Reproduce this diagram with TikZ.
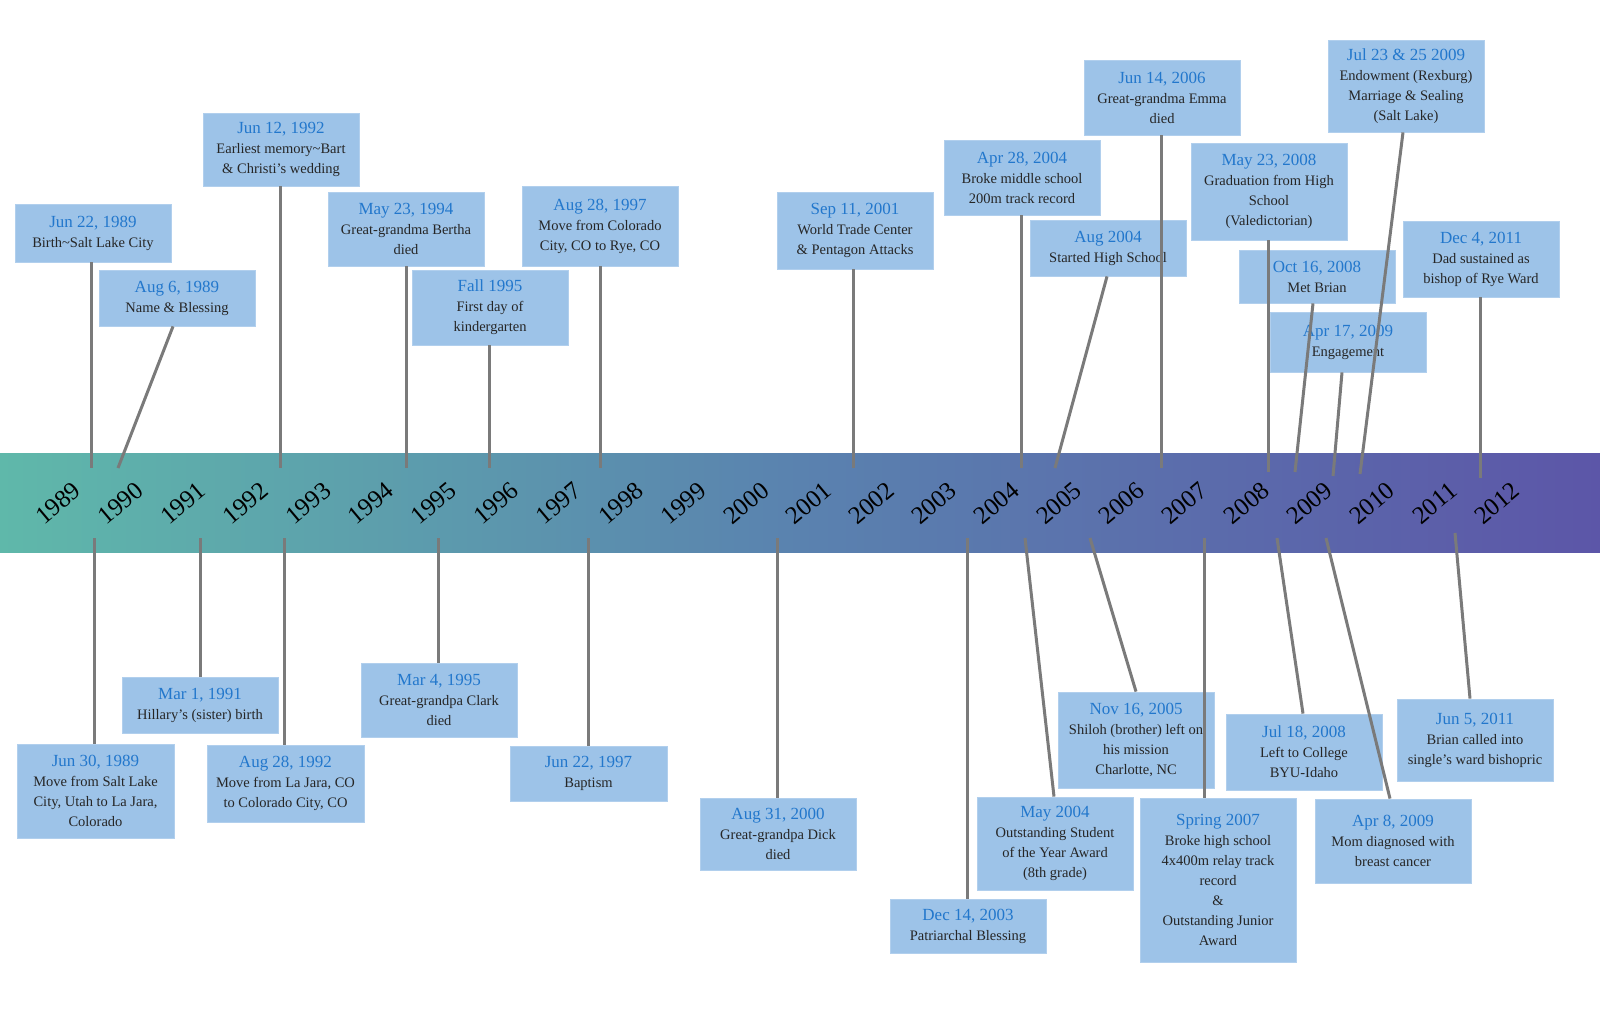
\documentclass[tikz,border=0pt]{standalone}
\usepackage{fontspec}
\setmainfont{Liberation Serif}
\usetikzlibrary{calc}
\definecolor{boxc}{HTML}{9DC3E8}
\definecolor{ttlc}{HTML}{2277CC}
\definecolor{linec}{HTML}{7A7A7A}
\tikzset{
 box/.style={fill=boxc,draw=boxc!80!white,line width=0.8pt,inner sep=0pt,align=center,font=\fontsize{14.5}{20}\selectfont,text=black!85},
 conn/.style={draw=linec,line width=3pt},
 yr/.style={rotate=40,font=\fontsize{25}{25}\selectfont}
}
\newcommand\ttl[1]{\textcolor{ttlc}{\fontsize{17}{20}\selectfont #1}}
\newcommand\evt[7]{\node[box,minimum width={#4-#2},minimum height={#5-#3}] (#1) at ({(#2+#4)/2},{(#3+#5)/2}) {\ttl{#6}\\#7};}
\begin{document}
\begin{tikzpicture}[x=1pt,y=-1pt]
\useasboundingbox (0,0) rectangle (1600,1035);
\fill[left color={rgb,255:red,95;green,184;blue,170},right color={rgb,255:red,92;green,86;blue,168},middle color={rgb,255:red,90;green,130;blue,175}] (0,453) rectangle (1600,552);
\foreach \yy [count=\i from 0] in {1989,...,2012}
  \node[yr] (y\yy) at ({58+62.57*\i},503) {\yy};
% top
\evt{b1}{15}{204}{171}{262}{Jun 22, 1989}{Birth\textasciitilde Salt Lake City}
\evt{b2}{99}{270}{255}{326}{Aug 6, 1989}{Name \& Blessing}
\evt{b3}{203}{113}{359}{186}{Jun 12, 1992}{Earliest memory\textasciitilde Bart\\\& Christi’s wedding}
\evt{b4}{328}{192}{484}{266}{May 23, 1994}{Great-grandma Bertha\\died}
\evt{b5}{412}{270}{568}{345}{Fall 1995}{First day of\\kindergarten}
\evt{b6}{522}{186}{678}{266}{Aug 28, 1997}{Move from Colorado\\City, CO to Rye, CO}
\evt{b7}{777}{192}{933}{269}{Sep 11, 2001}{World Trade Center\\\& Pentagon Attacks}
\evt{b8}{944}{140}{1100}{215}{Apr 28, 2004}{Broke middle school\\200m track record}
\evt{b9}{1084}{60}{1240}{135}{Jun 14, 2006}{Great-grandma Emma\\died}
\evt{b10}{1030}{220}{1186}{276}{Aug 2004}{Started High School}
\evt{b11}{1191}{143}{1347}{240}{May 23, 2008}{Graduation from High\\School\\(Valedictorian)}
\evt{b12}{1328}{40}{1484}{132}{Jul 23 \& 25 2009}{Endowment (Rexburg)\\Marriage \& Sealing\\(Salt Lake)}
\evt{b13}{1239}{250}{1395}{303}{Oct 16, 2008}{Met Brian}
\evt{b14}{1270}{312}{1426}{372}{Apr 17, 2009}{Engagement}
\evt{b15}{1403}{221}{1559}{297}{Dec 4, 2011}{Dad sustained as\\bishop of Rye Ward}
% bottom
\evt{c1}{17}{744}{174}{838}{Jun 30, 1989}{Move from Salt Lake\\City, Utah to La Jara,\\Colorado}
\evt{c2}{122}{677}{278}{733}{Mar 1, 1991}{Hillary’s (sister) birth}
\evt{c3}{207}{745}{364}{822}{Aug 28, 1992}{Move from La Jara, CO\\to Colorado City, CO}
\evt{c4}{361}{663}{517}{737}{Mar 4, 1995}{Great-grandpa Clark\\died}
\evt{c5}{510}{746}{667}{801}{Jun 22, 1997}{Baptism}
\evt{c6}{700}{798}{856}{870}{Aug 31, 2000}{Great-grandpa Dick\\died}
\evt{c7}{890}{899}{1046}{953}{Dec 14, 2003}{Patriarchal Blessing}
\evt{c8}{977}{797}{1133}{890}{May 2004}{Outstanding Student\\of the Year Award\\(8th grade)}
\evt{c9}{1058}{692}{1214}{788}{Nov 16, 2005}{Shiloh (brother) left on\\his mission\\Charlotte, NC}
\evt{c10}{1140}{798}{1296}{962}{Spring 2007}{Broke high school\\4x400m relay track\\record\\\&\\Outstanding Junior\\Award}
\evt{c11}{1226}{714}{1382}{790}{Jul 18, 2008}{Left to College\\BYU-Idaho}
\evt{c12}{1315}{799}{1471}{883}{Apr 8, 2009}{Mom diagnosed with\\breast cancer}
\evt{c13}{1397}{699}{1553}{781}{Jun 5, 2011}{Brian called into\\single’s ward bishopric}
% band end points
\foreach \n/\px/\py in {e1/91/468,e2/118/468,e3/280/468,e4/406/468,e5/489/468,e6/600/468,e7/853/468,e8/1021/468,e9/1161/468,e10/1055/468,e11/1268/472,e12/1360/474,e13/1295/472,e14/1333/476,e15/1480/478,
 f1/94/538,f2/200/538,f3/284/538,f4/438/538,f5/588/538,f6/777/538,f7/967/538,f8/1025/538,f9/1090/538,f10/1204/538,f11/1277/538,f12/1326/538,f13/1455/533}
  \coordinate (\n) at (\px,\py);
\foreach \b/\dx/\e in {b1/-2/e1,b2/-4/e2,b3/-1/e3,b4/0/e4,b5/-1/e5,b6/0/e6,b7/-2/e7,b8/-1/e8,b9/-1/e9,b10/-1/e10,b11/-1/e11,b12/-3/e12,b13/-4/e13,b14/-6/e14,b15/-1/e15}
  \draw[conn] ([xshift=\dx pt]\b.south) -- (\e);
\foreach \b/\dx/\e in {c1/-1.5/f1,c2/0/f2,c3/-1.5/f3,c4/-1/f4,c5/-0.5/f5,c6/-1/f6,c7/-1/f7,c8/-1/f8,c9/0/f9,c10/-14/f10,c11/-1/f11,c12/-3/f12,c13/-5/f13}
  \draw[conn] ([xshift=\dx pt]\b.north) -- (\e);
\end{tikzpicture}
\end{document}
